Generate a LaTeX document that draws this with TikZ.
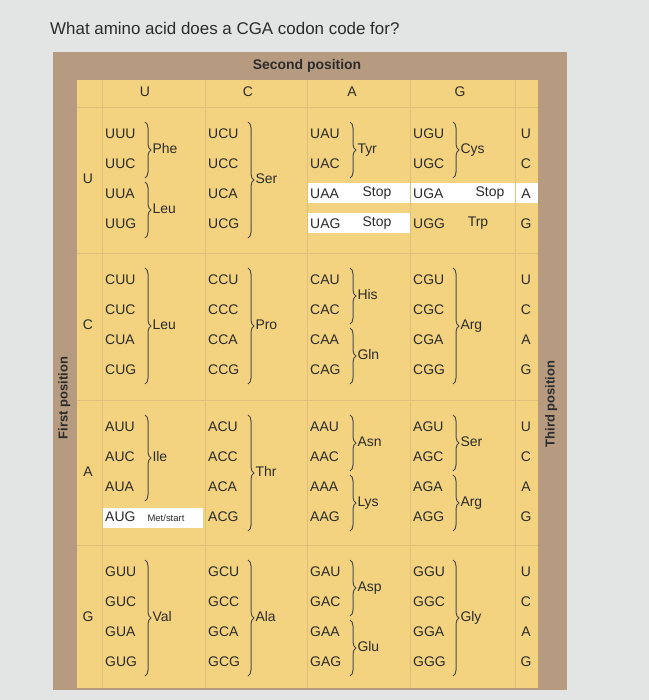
\documentclass[tikz,border=0pt]{standalone}
\usepackage{fontspec}
\setmainfont{Liberation Sans}
\usetikzlibrary{decorations.pathreplacing,calc}
\definecolor{paper}{HTML}{E3E5E4}
\definecolor{frame}{HTML}{B79B80}
\definecolor{cell}{HTML}{F3D37F}
\definecolor{gridline}{HTML}{DFC07A}
\definecolor{ink}{HTML}{2B2B2B}
\tikzset{
  codon/.style={anchor=west, inner sep=0pt, text height=10bp, text depth=3bp, font=\fontsize{14}{14}\selectfont, text=ink},
  amino/.style={anchor=west, inner sep=0pt, text height=10bp, text depth=3bp, font=\fontsize{14}{14}\selectfont, text=ink},
  base/.style={inner sep=0pt, text height=10bp, text depth=3bp, font=\fontsize{14}{14}\selectfont, text=ink},
  grp/.style={decorate, decoration={brace, amplitude=6bp}, draw=ink!85, line width=1bp},
  hilite/.style={fill=white, draw=none},
}
\begin{document}
\begin{tikzpicture}[x=1bp, y=-1bp]
  \useasboundingbox (0,0) rectangle (649,700);
  % Fondo y marco
  \fill[paper] (0,0) rectangle (649,700);
  \fill[frame] (53,52) rectangle (567,690);
  \fill[cell] (77,80) rectangle (538,688);

  % Celdas resaltadas
  \fill[hilite] (307,183) rectangle (538,203);
  \fill[hilite] (307,213) rectangle (410,233);
  \fill[hilite] (102,508) rectangle (203,528);

  % Rejilla
  \foreach \gx in {102,205,307,410,515}
    \draw[gridline, line width=0.8bp] (\gx,80) -- (\gx,688);
  \foreach \gy in {107,253,400,545}
    \draw[gridline, line width=0.8bp] (77,\gy) -- (538,\gy);

  % Titulos
  \node[anchor=west, inner sep=0pt, font=\fontsize{17}{17}\selectfont, text=ink] (title) at (50,28)
    {What amino acid does a CGA codon code for?};
  \node[base, font=\fontsize{14}{14}\selectfont\bfseries] (second) at (307,66) {Second position};
  \node[base, rotate=90, font=\fontsize{13}{13}\selectfont\bfseries] (first) at (64,398) {First position};
  \node[base, rotate=90, font=\fontsize{13}{13}\selectfont\bfseries] (third) at (551,404) {Third position};

  % Segunda posicion
  \foreach \s/\hx in {U/145,C/248,A/352,G/460}
    \node[base] (h\s) at (\hx,93) {\s};

  % Codones
  \foreach \f/\bt in {U/107,C/253,A/400,G/545} {
    \node[base] (f\f) at (88,\bt+73) {\f};
    \foreach \t [count=\k] in {U,C,A,G}
      \node[base] (t\f\t) at (526,\bt+28+30*\k-30) {\t};
    \foreach \s/\cx in {U/102,C/205,A/307,G/410}
      \foreach \t [count=\k] in {U,C,A,G}
        \node[codon] (\f\s\t) at (\cx+3,\bt+28+30*\k-30) {\f\s\t};
  }

  % Llaves
  \foreach \a/\b/\lab in {UUU/UUC/Phe, UUA/UUG/Leu, UCU/UCG/Ser, UAU/UAC/Tyr, UGU/UGC/Cys,
      CUU/CUG/Leu, CCU/CCG/Pro, CAU/CAC/His, CAA/CAG/Gln, CGU/CGG/Arg,
      AUU/AUA/Ile, ACU/ACG/Thr, AAU/AAC/Asn, AAA/AAG/Lys, AGU/AGC/Ser, AGA/AGG/Arg,
      GUU/GUG/Val, GCU/GCG/Ala, GAU/GAC/Asp, GAA/GAG/Glu, GGU/GGG/Gly}
    \draw[grp] ($(\a.west)+(40,-13)$) -- ($(\b.west)+(40,13)$)
      node[amino, midway, xshift=7bp] (aa\a) {\lab};

  % Codones sin llave
  \node[base] (stopUAA) at (377,193) {Stop};
  \node[base] (stopUGA) at (490,193) {Stop};
  \node[base] (stopUAG) at (377,223) {Stop};
  \node[base] (trp) at (478,223) {Trp};
  \node[base, font=\fontsize{9.5}{9.5}\selectfont] (met) at (166,518) {Met/start};
\end{tikzpicture}
\end{document}
